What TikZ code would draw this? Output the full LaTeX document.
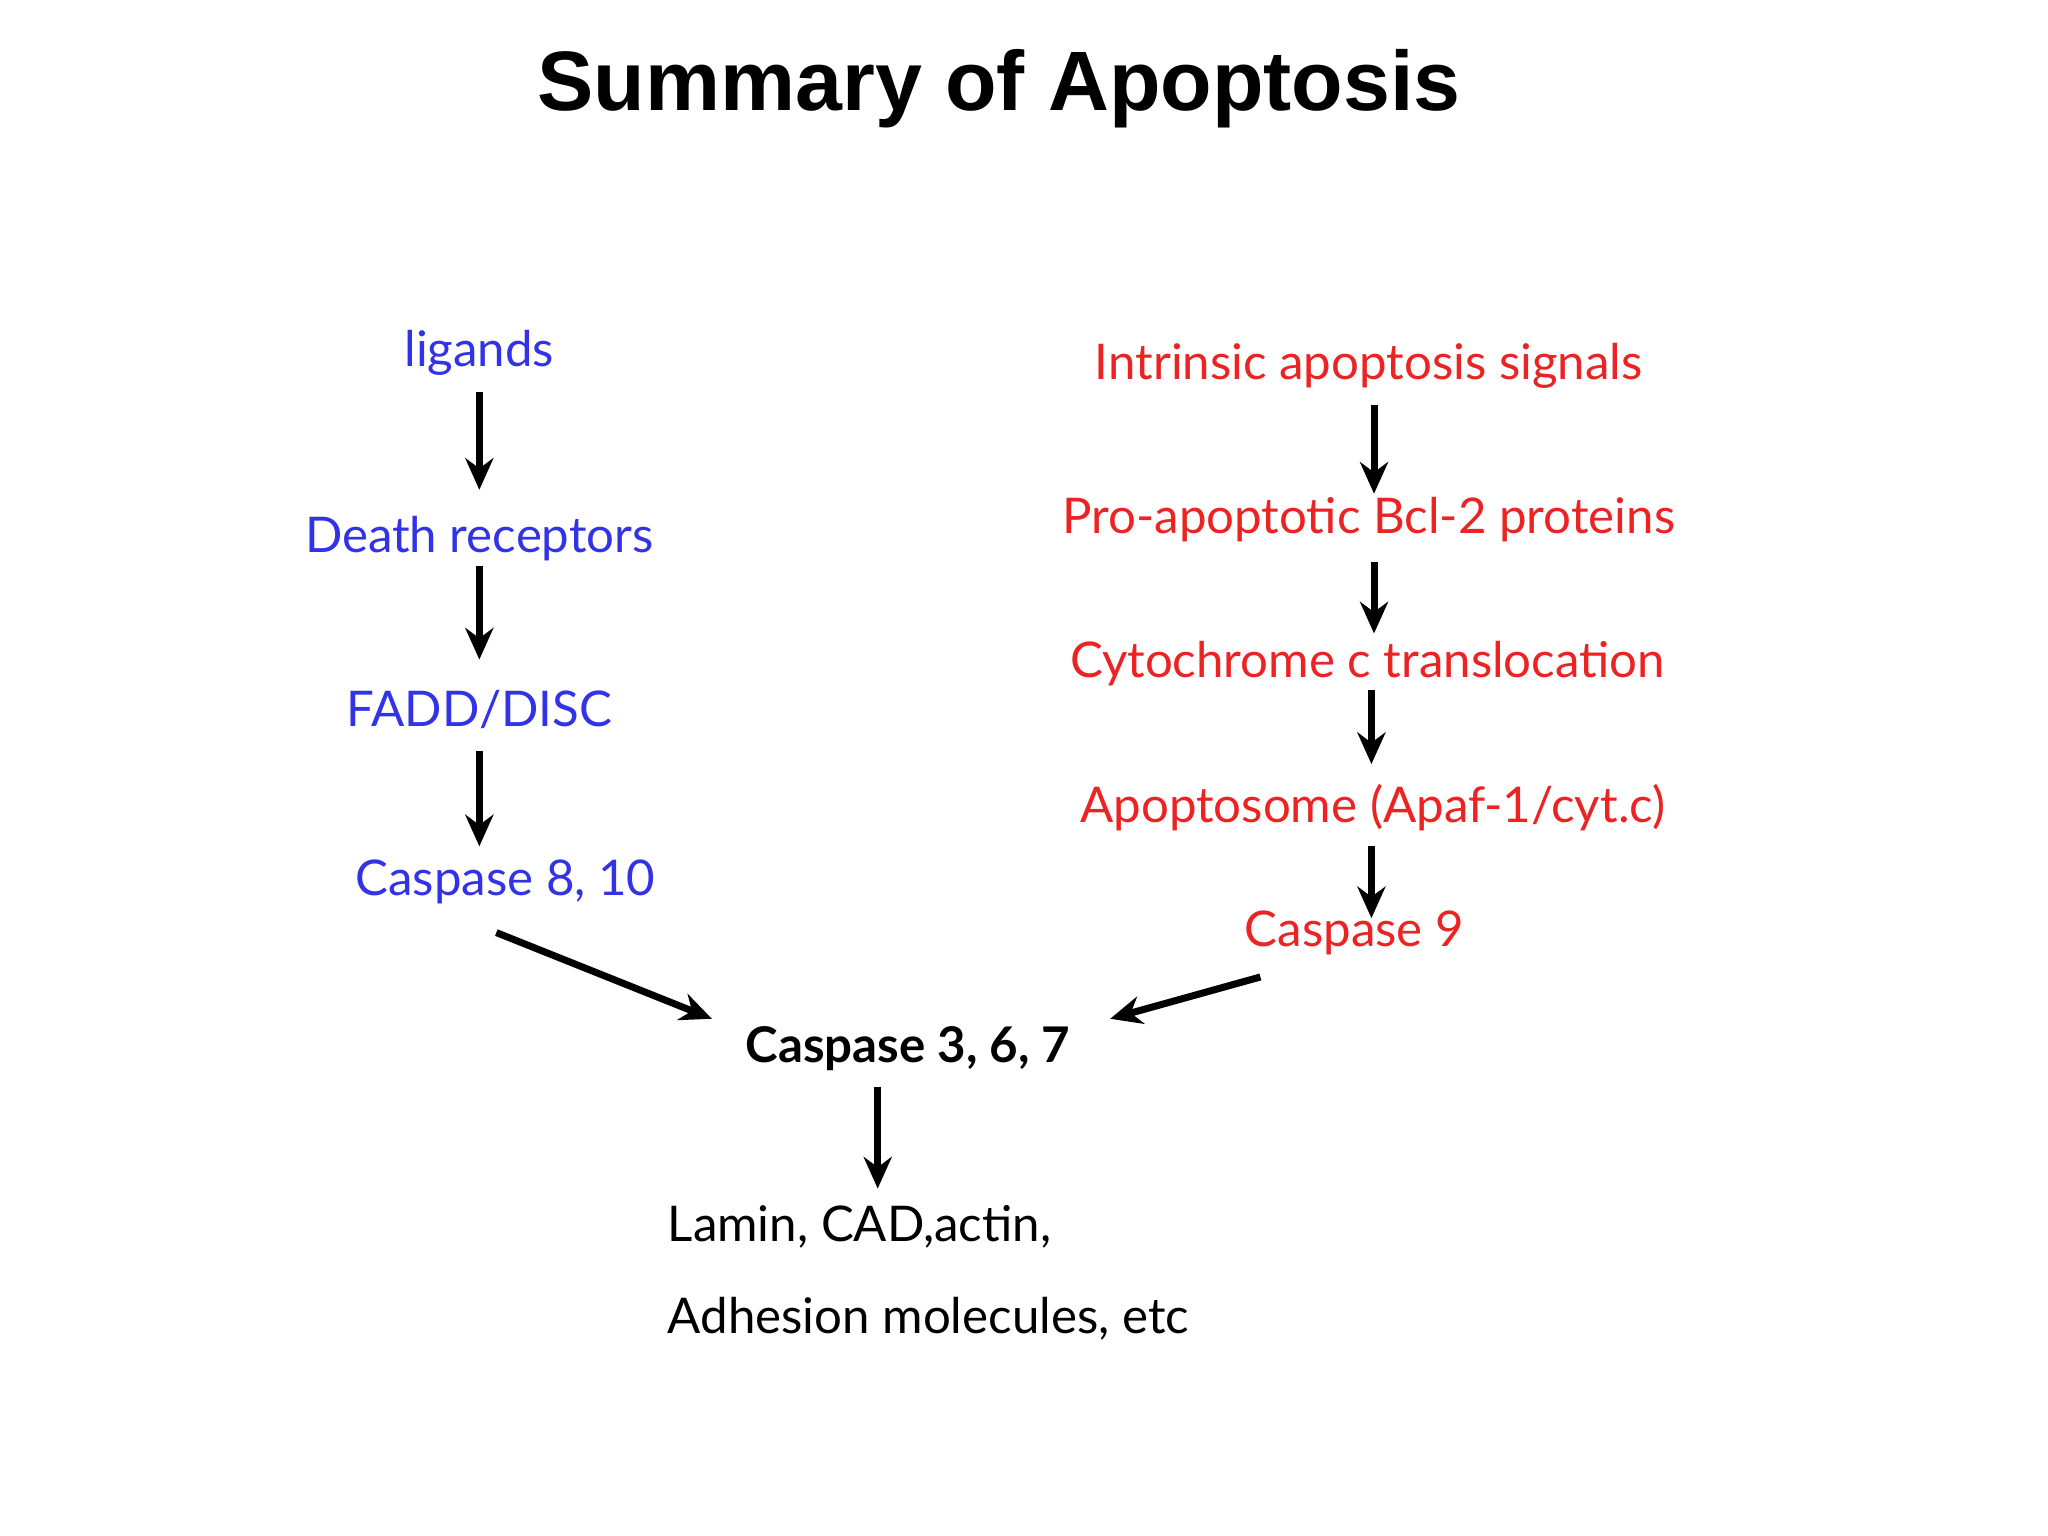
\documentclass[tikz,border=0pt]{standalone}
\usepackage{fontspec}
\setmainfont{Lato}
\newfontfamily\titlefont{Liberation Sans}
\usetikzlibrary{arrows.meta}
\definecolor{bl}{RGB}{50,50,230}
\definecolor{rd}{RGB}{235,35,35}
\begin{document}
\begin{tikzpicture}[x=0.01306cm,y=-0.01306cm,
  lbl/.style={font=\fontsize{14}{16}\selectfont,inner sep=1pt},
  arr/.style={-{Stealth[length=9pt,width=8pt]},line width=2pt}]
\useasboundingbox (0,0) rectangle (1568,1176);
\node (t) at (765,68) {\titlefont\bfseries\fontsize{24}{28}\selectfont Summary of Apoptosis};
\node[lbl,text=bl] (a1) at (367,270) {ligands};
\node[lbl,text=bl] (a2) at (367,412) {Death receptors};
\node[lbl,text=bl] (a3) at (367,543) {FADD/DISC};
\node[lbl,text=bl] (a4) at (387,675) {Caspase 8, 10};
\node[lbl,text=rd] (b1) at (1048,280) {Intrinsic apoptosis signals};
\node[lbl,text=rd] (b2) at (1048,398) {Pro-apoptotic Bcl-2 proteins};
\node[lbl,text=rd] (b3) at (1047,508) {Cytochrome c translocation};
\node[lbl,text=rd] (b4) at (1051,618) {Apoptosome (Apaf-1/cyt.c)};
\node[lbl,text=rd] (b5) at (1037,714) {Caspase 9};
\node[lbl,font=\bfseries\fontsize{14}{16}\selectfont] (c) at (695,803) {Caspase 3, 6, 7};
\node[lbl,align=left,anchor=north west,font=\fontsize{14}{26}\selectfont] (d) at (508,920) {Lamin, CAD,actin,\\Adhesion molecules, etc};
\coordinate (p1) at (367,300); \coordinate (q1) at (367,375);
\coordinate (p2) at (367,433); \coordinate (q2) at (367,505);
\coordinate (p3) at (367,575); \coordinate (q3) at (367,648);
\coordinate (r1) at (1052,310); \coordinate (s1) at (1052,378);
\coordinate (r2) at (1052,430); \coordinate (s2) at (1052,485);
\coordinate (r3) at (1050,528); \coordinate (s3) at (1050,585);
\coordinate (r4) at (1050,648); \coordinate (s4) at (1050,703);
\coordinate (u1) at (380,714); \coordinate (v1) at (545,780);
\coordinate (u2) at (965,748); \coordinate (v2) at (850,780);
\coordinate (w1) at (672,832); \coordinate (w2) at (672,910);
\draw[arr] (p1)--(q1); \draw[arr] (p2)--(q2); \draw[arr] (p3)--(q3);
\draw[arr] (r1)--(s1); \draw[arr] (r2)--(s2); \draw[arr] (r3)--(s3); \draw[arr] (r4)--(s4);
\draw[arr] (u1)--(v1); \draw[arr] (u2)--(v2); \draw[arr] (w1)--(w2);
\end{tikzpicture}
\end{document}
